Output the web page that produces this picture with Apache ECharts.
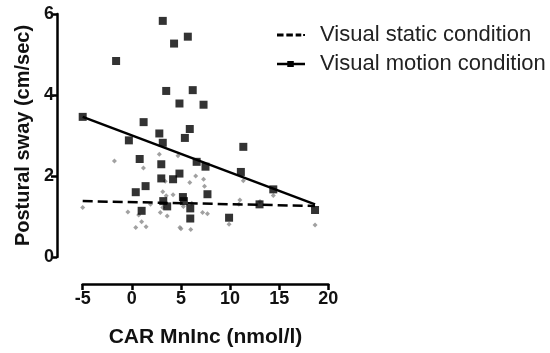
<!DOCTYPE html>
<html><head><meta charset="utf-8">
<script src="https://cdn.jsdelivr.net/npm/echarts@6/dist/echarts.min.js"></script>
<style>html,body{margin:0;padding:0;background:#fff}#c{width:550px;height:353px}</style>
</head><body><div id="c"></div>
<script>
// Visual motion condition (black squares)
const motionX = [-5.0,-1.6,-0.3,0.4,0.8,1.0,1.2,1.4,2.8,3.0,3.0,3.15,3.15,3.2,3.5,3.6,4.2,4.3,4.85,4.85,5.2,5.3,5.4,5.7,5.9,5.95,5.95,6.2,6.6,7.3,7.5,7.7,9.9,11.1,11.35,13.0,14.4,18.65];
const motionY = [3.46,4.84,2.88,1.60,2.42,1.14,3.33,1.75,3.05,2.29,1.94,5.83,2.82,1.38,4.10,1.25,1.92,5.27,3.79,2.06,1.48,1.38,2.94,5.44,3.16,1.20,0.95,4.12,2.35,3.76,2.23,1.55,0.97,2.10,2.72,1.30,1.67,1.16];
// Visual static condition (grey diamonds)
const staticX = [-5.0,-1.77,-0.4,0.4,0.7,1.0,1.18,1.45,1.9,2.8,2.9,3.15,3.15,3.4,3.5,3.6,4.2,4.7,4.9,5.0,5.25,5.9,6.0,6.1,6.5,7.3,7.4,7.2,7.7,9.9,10.9,11.0,11.35,13.05,14.4,18.65];
const staticY = [1.22,2.37,1.11,0.73,1.04,0.87,2.20,0.75,1.30,2.54,1.10,1.61,1.22,1.87,1.51,1.01,1.54,2.50,0.73,0.70,1.25,1.84,0.68,1.33,2.00,1.92,1.75,1.10,1.07,0.81,1.30,1.41,1.88,1.37,1.52,0.79];
// Regression lines (end points)
const motionFitX = [-5, 18.65];
const motionFitY = [3.46, 1.30];
const staticFitX = [-5, 18.65];
const staticFitY = [1.38, 1.26];
const xTicks = [-5, 0, 5, 10, 15, 20];
const yTicks = [0, 2, 4, 6];
const legendNames = ['Visual static condition', 'Visual motion condition'];

const zip = (a, b) => a.map((v, i) => [v, b[i]]);
const font = '"Liberation Sans", Arial, sans-serif';
const legendText = {fontFamily: font, fontSize: 22, color: '#222', padding: [0, 0, 0, 10]};
const dashIcon = 'path://M0,0L7,0L7,3L0,3ZM10,0L17,0L17,3L10,3ZM20,0L26,0L26,3L20,3ZM28,0.5L30,0.5L30,2.5L28,2.5Z';
const lineSqIcon = 'path://M0,2L11,2L11,0L18,0L18,2L30,2L30,4.5L18,4.5L18,6.5L11,6.5L11,4.5L0,4.5Z';
const chart = echarts.init(document.getElementById('c'), null, {renderer: 'canvas'});
chart.setOption({
  animation: false,
  backgroundColor: '#fff',
  grid: {left: 82.7, right: 221.7, top: 14, bottom: 95},
  legend: [
    {left: 272, top: 19, itemWidth: 28, itemHeight: 3, data: [{name: legendNames[0], icon: dashIcon}],
     textStyle: legendText, selectedMode: false},
    {left: 272, top: 48, itemWidth: 28, itemHeight: 6.5, data: [{name: legendNames[1], icon: lineSqIcon}],
     textStyle: legendText, selectedMode: false}
  ],
  xAxis: {
    type: 'value', min: xTicks[0], max: xTicks[xTicks.length - 1], interval: 5, offset: 27,
    axisLine: {show: true, onZero: false, lineStyle: {color: '#000', width: 2.5}},
    axisTick: {show: true, length: 6, lineStyle: {color: '#000', width: 2.5}},
    splitLine: {show: false},
    axisLabel: {fontFamily: font, fontSize: 18, fontWeight: 'bold', color: '#111', margin: 6},
    name: 'CAR MnInc (nmol/l)', nameLocation: 'middle', nameGap: 43,
    nameTextStyle: {fontFamily: font, fontSize: 21, fontWeight: 'bold', color: '#111'}
  },
  yAxis: {
    type: 'value', min: yTicks[0], max: yTicks[yTicks.length - 1], interval: 2, offset: 25.7,
    axisLine: {show: true, onZero: false, lineStyle: {color: '#000', width: 2.5}},
    axisTick: {show: true, length: 6, lineStyle: {color: '#000', width: 2.5}},
    splitLine: {show: false},
    axisLabel: {fontFamily: font, fontSize: 18, fontWeight: 'bold', color: '#111', margin: 3},
    name: 'Postural sway (cm/sec)', nameLocation: 'middle', nameGap: 24, nameRotate: 90,
    nameTextStyle: {fontFamily: font, fontSize: 20, fontWeight: 'bold', color: '#111'}
  },
  series: [
    {name: 'static points', type: 'scatter', data: zip(staticX, staticY), symbol: 'diamond', symbolSize: 5,
     itemStyle: {color: '#8a8a8a'}, z: 2},
    {name: 'motion points', type: 'scatter', data: zip(motionX, motionY), symbol: 'rect', symbolSize: 8,
     itemStyle: {color: '#000'}, z: 4},
    {name: legendNames[0], type: 'line', data: zip(staticFitX, staticFitY), symbol: 'none',
     lineStyle: {color: '#000', width: 2.5, type: [10, 5]}, itemStyle: {color: '#000'}, z: 3},
    {name: legendNames[1], type: 'line', data: zip(motionFitX, motionFitY), symbol: 'none',
     lineStyle: {color: '#000', width: 2.5}, itemStyle: {color: '#000'}, z: 3}
  ]
});
</script></body></html>
